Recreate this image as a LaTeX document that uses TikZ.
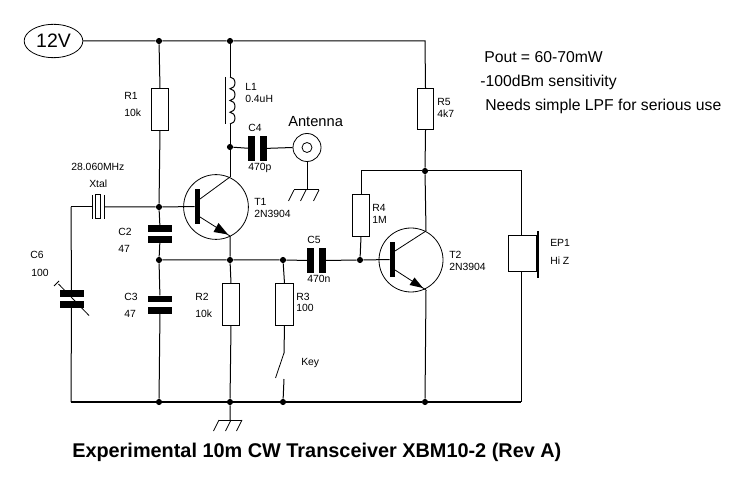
\documentclass[tikz,border=0pt]{standalone}
\usepackage{fontspec}
\setmainfont{Liberation Sans}
\usetikzlibrary{shapes.geometric,arrows.meta}
\tikzset{
  wire/.style={line width=0.75pt,line join=miter},
  thin wire/.style={line width=0.6pt},
  rail/.style={line width=1.6pt},
  dotn/.style={circle,fill=black,draw=none,minimum size=4.6pt,inner sep=0pt},
  res/.style={draw,line width=0.75pt,fill=white,minimum width=12.6pt,minimum height=31pt,inner sep=0pt},
  plateh/.style={fill=black,draw=none,minimum width=18pt,minimum height=5pt,inner sep=0pt},
  platev/.style={fill=black,draw=none,minimum width=5pt,minimum height=18.8pt,inner sep=0pt},
  lab/.style={anchor=west,inner sep=0pt,font=\fontsize{7.8}{9}\selectfont,text height=5.6pt,text depth=0pt},
  biglab/.style={anchor=west,inner sep=0pt,font=\fontsize{11.8}{13}\selectfont,text height=8.4pt,text depth=0pt},
  transcircle/.style={circle,draw,line width=0.6pt,minimum size=48.6pt,inner sep=0pt},
  basebar/.style={fill=black,draw=none,minimum width=3.8pt,minimum height=26pt,inner sep=0pt},
}
\begin{document}
\begin{tikzpicture}[x=0.75pt,y=-0.75pt]
\useasboundingbox (0,0) rectangle (745,484);
% junctions
\foreach \n/\x/\y in {ja/159/41,jb/230/41,jc/230/147,jd/159/207,je/159/260,jf/230/260,jg/283/260,jh/360/260,ji/425/171,jk/159/402,jl/230/402,jm/283/402,jn/425/402}
  \node[dotn] (\n) at (\x,\y) {};
\coordinate (tr) at (425,41);
\coordinate (tl) at (361,171);
\coordinate (tre) at (521,171);
\coordinate (bl) at (71,402);
\coordinate (br) at (521,402);
\coordinate (xl) at (71,207);
% supply
\node[ellipse,draw,line width=0.6pt,minimum width=44pt,minimum height=25pt,inner sep=0pt,font=\fontsize{14.6}{16}\selectfont] (vcc) at (53.5,41) {12V};
% resistors
\node[res] (R1) at (160,109.5) {};
\node[res] (R2) at (231,304.5) {};
\node[res,minimum width=13.4pt] (R3) at (284.5,304.5) {};
\node[res] (R4) at (361,215.5) {};
\node[res] (R5) at (425.5,109) {};
% capacitors
\node[plateh] (C2a) at (160,228.5) {};
\node[plateh] (C2b) at (160,239.5) {};
\node[plateh] (C3a) at (160,299) {};
\node[plateh] (C3b) at (160,310.5) {};
\node[plateh] (C6a) at (71.5,293.5) {};
\node[plateh] (C6b) at (71.5,304.5) {};
\node[platev] (C4a) at (251.5,148.5) {};
\node[platev] (C4b) at (263.5,148.5) {};
\node[platev] (C5a) at (310.5,260.5) {};
\node[platev] (C5b) at (322.5,260.5) {};
% crystal
\node[draw,line width=0.75pt,fill=white,minimum width=3.8pt,minimum height=18pt,inner sep=0pt] (Xb) at (98,207) {};
\coordinate (Xl) at (92,207);
\coordinate (Xr) at (104,207);
\draw[wire] (92,195) -- (92,219);
\draw[wire] (104,195) -- (104,219);
% inductor
\coordinate (L1t) at (230,77);
\coordinate (L1b) at (230,124);
\draw[wire] (225,77) -- (225,124);
\draw[wire] (L1t) arc[start angle=-90,end angle=90,x radius=5,y radius=5.875]
  arc[start angle=-90,end angle=90,x radius=5,y radius=5.875]
  arc[start angle=-90,end angle=90,x radius=5,y radius=5.875]
  arc[start angle=-90,end angle=90,x radius=5,y radius=5.875];
% antenna connector
\node[circle,draw,line width=0.6pt,minimum size=21pt,inner sep=0pt] (ant) at (307,147.5) {};
\node[circle,draw,line width=0.6pt,minimum size=7.5pt,inner sep=0pt] (anti) at (307,147.5) {};
% transistors
\node[transcircle] (T1) at (216,207) {};
\node[basebar] (T1b) at (197.5,206.5) {};
\coordinate (T1c) at (230,177);
\coordinate (T1e) at (230,236);
\node[transcircle,minimum size=48pt] (T2) at (411,260) {};
\node[basebar] (T2b) at (392.5,259.5) {};
\coordinate (T2c) at (426,231);
\coordinate (T2e) at (426,290);
\draw[thin wire] (200,199) -- (T1c);
\draw[thin wire] (200,217) -- (T1e);
\fill (228,234.5) -- (213.5,232) -- (218.5,223) -- cycle;
\draw[thin wire] (395,251) -- (T2c);
\draw[thin wire] (395,270) -- (T2e);
\fill (423,288) -- (409.5,285) -- (414.5,277.5) -- cycle;
% earphone
\node[draw,line width=0.75pt,fill=white,minimum width=21.6pt,minimum height=27pt,inner sep=0pt] (EP) at (522.5,254) {};
\draw[line width=1.5pt] (538,231) -- (538,278);
% grounds
\coordinate (G1) at (307,190);
\coordinate (G2) at (230,420);
\draw[wire] (294,190) -- (319,190);
\foreach \x in {294,306,319} \draw[thin wire] (\x,190) -- (\x-5.5,201);
\draw[wire] (219,420) -- (242,420);
\foreach \x in {219,231,242} \draw[thin wire] (\x,420) -- (\x-5.5,431);
% switch
\coordinate (S1) at (284,353);
\coordinate (S2) at (275.5,378);
\coordinate (S3) at (284,379);
\draw[thin wire] (S1) -- (S2);
% C6 variable mark
\draw[thin wire] (58.5,284) -- (89,315.5);
\draw[thin wire] (54,286) -- (59,281);
% wires
\draw[wire] (vcc.east) -- (ja) -- (jb) -- (tr) -- (R5.north);
\draw[wire] (ja) -- (R1.north);
\draw[wire] (R1.south) -- (jd);
\draw[wire] (jb) -- (L1t);
\draw[wire] (L1b) -- (jc) -- (T1c);
\draw[wire] (jc) -- (C4a);
\draw[wire] (C4b) -- (ant.west);
\draw[wire] (ant.south) -- (ant.south |- G1);
\draw[wire] (xl) -- (Xl);
\draw[wire] (Xr) -- (jd) -- (T1b);
\draw[wire] (xl) -- (C6a);
\draw[wire] (C6b) -- (bl);
\draw[wire] (jd) -- (C2a);
\draw[wire] (C2b) -- (je);
\draw[wire] (je) -- (C3a);
\draw[wire] (C3b) -- (jk);
\draw[wire] (T1e) -- (jf) -- (R2.north);
\draw[wire] (R2.south) -- (jl) -- (G2);
\draw[wire] (je) -- (jf) -- (jg) -- (C5a);
\draw[wire] (jg) -- (R3.north);
\draw[wire] (R3.south) -- (S1);
\draw[wire] (S3) -- (jm);
\draw[wire] (C5b) -- (jh) -- (T2b);
\draw[wire] (jh) -- (R4.south);
\draw[wire] (R4.north) -- (tl) -- (ji) -- (tre) -- (EP.north -| tre);
\draw[wire] (EP.south -| tre) -- (br);
\draw[wire] (R5.south) -- (ji) -- (T2c);
\draw[wire] (T2e) -- (jn);
\draw[rail] (bl) -- (jk) -- (jl) -- (jm) -- (jn) -- (br);
% labels
\foreach \n/\x/\y/\t in {a/124/96/R1,b/124/113/10k,c/245/87/L1,d/245/99/0.4uH,e/248/128/C4,f/248/167/470p,g/71/167/28.060MHz,h/89/184/Xtal,i/254/202/T1,j/254/214/2N3904,k/118/232/C2,l/118/249/47,m/30/255/C6,n/31/273/100,o/124/297/C3,p/124/314/47,q/195/297/R2,r/195/314/10k,s/296/297/R3,t/296/308/100,u/307/240/C5,v/307/279/470n,w/301/362/Key,x/437/102/R5,y/437/114/4k7,z/372/208/R4,aa/372/220/1M,ab/449/255/T2,ac/449/267/2N3904,ad/550/243/EP1,ae/550/261/Hi Z}
  \node[lab] (lab\n) at (\x,\y) {\t};
\node[anchor=west,inner sep=0pt,font=\fontsize{11}{12}\selectfont,text height=7.8pt,text depth=0pt] (antlab) at (288,121) {Antenna};
\node[biglab] (note1) at (484,57) {Pout = 60-70mW};
\node[biglab] (note2) at (480,81) {-100dBm sensitivity};
\node[biglab] (note3) at (485,105) {Needs simple LPF for serious use};
\node[anchor=west,inner sep=0pt,font=\bfseries\fontsize{14.9}{16}\selectfont,text height=10.6pt,text depth=0pt] (title) at (72,450) {Experimental 10m CW Transceiver XBM10-2 (Rev A)};
\end{tikzpicture}
\end{document}
